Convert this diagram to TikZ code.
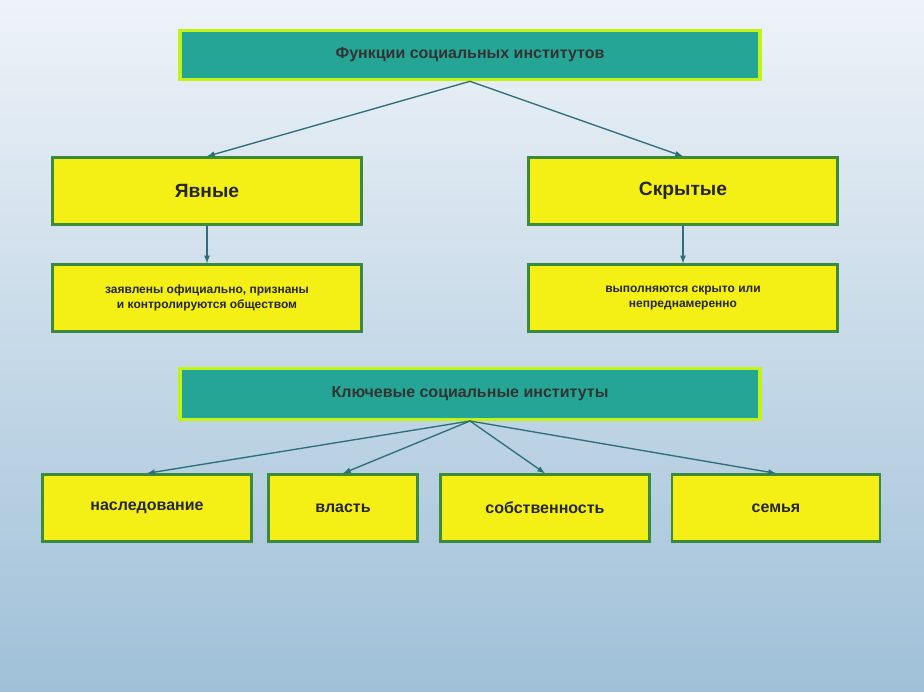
\documentclass[tikz,border=0pt]{standalone}
\usepackage{fontspec}
\setmainfont{Liberation Sans}
\definecolor{bgtop}{HTML}{EEF3F8}
\definecolor{bgbot}{HTML}{9FC0D8}
\definecolor{ybox}{HTML}{F4F016}
\definecolor{tbox}{HTML}{25A596}
\definecolor{bord}{HTML}{3C8A3C}
\definecolor{lin}{HTML}{2E6E78}
\tikzset{
 ybx/.style={draw=bord,line width=2pt,fill=ybox,text=black!85,font=\bfseries},
 tbx/.style={draw=ybox!80!green,line width=2.5pt,fill=tbox,text=black!80,font=\bfseries},
 conn/.style={lin,line width=1pt,-latex}
}
\begin{document}
\begin{tikzpicture}[x=0.75pt,y=-0.75pt]
\shade[top color=bgtop,bottom color=bgbot] (0,0) rectangle (924,692);
\useasboundingbox (0,0) rectangle (924,692);
\node[tbx,minimum width=435pt,minimum height=37pt,font=\bfseries\large] (top) at (470,55) {Функции социальных институтов};
\node[ybx,minimum width=232pt,minimum height=50pt,font=\bfseries\Large] (yav) at (207,191) {Явные};
\node[ybx,minimum width=232pt,minimum height=50pt,font=\bfseries\Large] (skr) at (683,191) {Скрытые};
\node[ybx,minimum width=232pt,minimum height=50pt,align=center,font=\bfseries\small] (d1) at (207,298) {заявлены официально, признаны\\и контролируются обществом};
\node[ybx,minimum width=232pt,minimum height=50pt,align=center,font=\bfseries\small] (d2) at (683,298) {выполняются скрыто или\\непреднамеренно};
\node[tbx,minimum width=435pt,minimum height=38pt,font=\bfseries\large] (key) at (470,394) {Ключевые социальные институты};
\node[ybx,minimum width=157pt,minimum height=50pt,font=\bfseries\large] (b1) at (147,508) {наследование};
\node[ybx,minimum width=112pt,minimum height=50pt,font=\bfseries\large] (b2) at (343,508) {власть};
\node[ybx,minimum width=157pt,minimum height=50pt,font=\bfseries\large] (b3) at (545,508) {собственность};
\node[ybx,minimum width=156pt,minimum height=50pt,font=\bfseries\large] (b4) at (776,508) {семья};
\draw[conn] (top.south) -- (yav.north);
\draw[conn] (top.south) -- (skr.north);
\draw[conn] (yav.south) -- (d1.north);
\draw[conn] (skr.south) -- (d2.north);
\draw[conn] (key.south) -- (b1.north);
\draw[conn] (key.south) -- (b2.north);
\draw[conn] (key.south) -- (b3.north);
\draw[conn] (key.south) -- (b4.north);
\end{tikzpicture}
\end{document}
